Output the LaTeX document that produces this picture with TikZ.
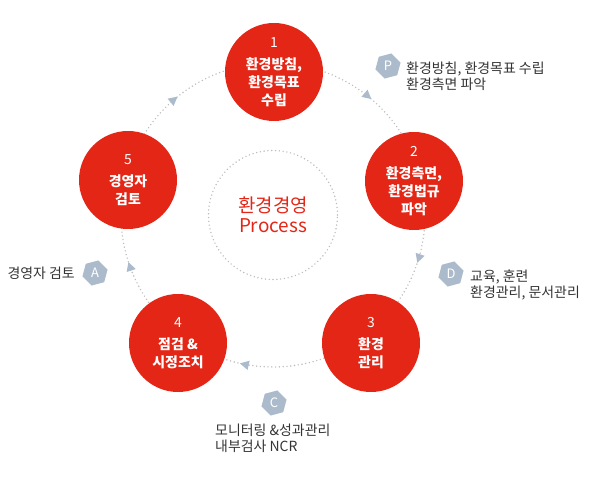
\documentclass[tikz,border=0pt]{standalone}
\usepackage{fontspec}
\setmainfont{Noto Sans CJK KR}
\usetikzlibrary{shapes.geometric, arrows.meta, decorations.markings}
\definecolor{phasered}{RGB}{228,38,22}
\definecolor{badgegray}{RGB}{172,187,203}
\definecolor{dotgray}{RGB}{190,190,190}
\definecolor{notegray}{RGB}{51,51,51}

\begin{document}
\begin{tikzpicture}[x=1bp, y=1bp, phase style/.style={circle, fill=phasered, text=white, minimum size=98bp, inner sep=0pt, align=center, font=\fontsize{14}{18}\selectfont}, core style/.style={circle, draw=dotgray, line width=1.6bp, dash pattern=on 0bp off 3.8bp, line cap=round, minimum size=129bp, text=phasered, align=center, font=\fontsize{19}{20}\selectfont}, badge style/.style={regular polygon, regular polygon sides=6, shape border rotate=15, fill=badgegray, text=white, minimum size=26bp, inner sep=0pt, font=\fontsize{13}{13}\selectfont}, note style/.style={text=notegray, align=left, inner sep=0pt, font=\fontsize{14}{16.5}\selectfont}, ring style/.style={dotgray, line width=1.6bp, dash pattern=on 0bp off 3.8bp, line cap=round}]
	\useasboundingbox (0,0) rectangle (590,479);
	\node[core style] (S0) at (273,264) {환경경영\\Process};
	\draw[ring style, postaction={decorate}, decoration={markings, mark=at position 0.112 with {\arrow{Triangle[length=9bp, width=9bp, color=badgegray]}}, mark=at position 0.301 with {\arrow{Triangle[length=9bp, width=9bp, color=badgegray]}}, mark=at position 0.535 with {\arrow{Triangle[length=9bp, width=9bp, color=badgegray]}}, mark=at position 0.70 with {\arrow{Triangle[length=9bp, width=9bp, color=badgegray]}}, mark=at position 0.892 with {\arrow{Triangle[length=9bp, width=9bp, color=badgegray]}}}] (S0.center) ++(90:152bp) arc[start angle=90, end angle=-270, radius=152bp];
	\node[phase style] (S1) at (274,407) {1\\[4bp]\textbf{환경방침,}\\\textbf{환경목표}\\\textbf{수립}};
	\node[phase style] (S2) at (414,298) {2\\[4bp]\textbf{환경측면,}\\\textbf{환경법규}\\\textbf{파악}};
	\node[phase style] (S3) at (371,136) {3\\[4bp]\textbf{환경}\\\textbf{관리}};
	\node[phase style] (S4) at (178,136) {4\\[4bp]\textbf{점검 \&}\\\textbf{시정조치}};
	\node[phase style] (S5) at (128,299) {5\\[4bp]\textbf{경영자}\\\textbf{검토}};
	\node[badge style] (B1) at (388,413) {P};
	\node[note style, anchor=west] (T1) at (406,403) {환경방침, 환경목표 수립\\환경측면 파악};
	\node[badge style] (B2) at (451,205) {D};
	\node[note style, anchor=west] (T2) at (470,194) {교육, 훈련\\환경관리, 문서관리};
	\node[badge style] (B3) at (274,76) {C};
	\node[note style, anchor=west] (T3) at (215,41) {모니터링 \&성과관리\\내부검사 NCR};
	\node[badge style] (B4) at (95,206) {A};
	\node[note style, anchor=east] (T4) at (75,206) {경영자 검토};
\end{tikzpicture}
\end{document}
